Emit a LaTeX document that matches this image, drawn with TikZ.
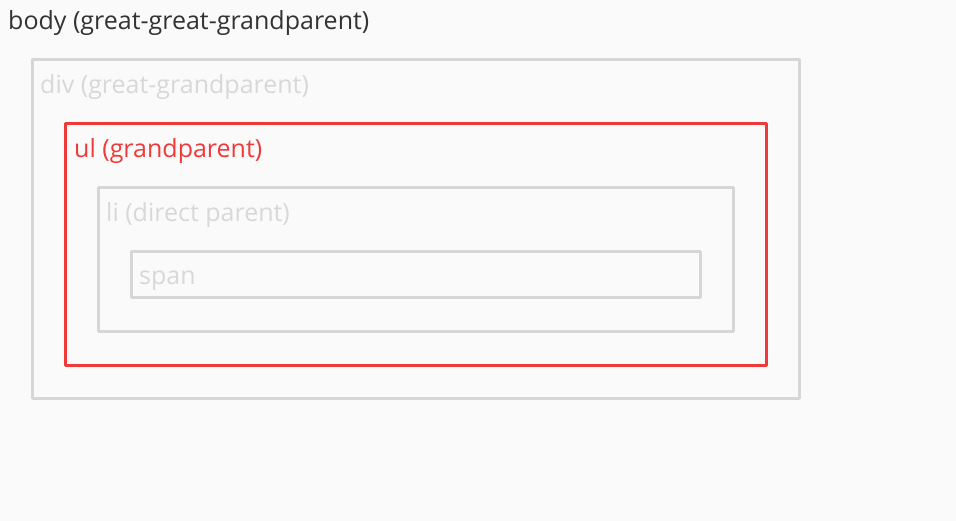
\documentclass[tikz,border=0pt]{standalone}
\usepackage{fontspec}
\setmainfont{Open Sans}
\definecolor{pagebg}{HTML}{FAFAFA}
\definecolor{boxgray}{HTML}{D6D6D6}
\definecolor{textgray}{HTML}{D8D8D8}
\definecolor{textdark}{HTML}{333333}
\definecolor{boxred}{HTML}{F03A3A}
\tikzset{
  level/.style={draw=boxgray,line width=3pt},
  focus/.style={draw=boxred,line width=3pt},
  tag/.style={anchor=base west,inner sep=0pt,text=textgray,font=\fontsize{25}{29}\selectfont},
}
\begin{document}
\begin{tikzpicture}[x=1pt,y=-1pt,line join=round]
  \fill[pagebg] (0,0) rectangle (956,521);
  \useasboundingbox (0,0) rectangle (956,521);
  % nested boxes
  \draw[level] (32,60) rectangle (799,398);
  \draw[focus] (65,124) rectangle (766,365);
  \draw[level] (98,188) rectangle (733,332);
  \draw[level] (131,252) rectangle (700,298);
  % labels
  \node[tag,text=textdark] (body) at (8,30) {body (great-great-grandparent)};
  \node[tag] (div) at (40,94) {div (great-grandparent)};
  \node[tag,text=boxred] (ul) at (74,158) {ul (grandparent)};
  \node[tag] (li) at (106,222) {li (direct parent)};
  \node[tag] (span) at (139,285) {span};
\end{tikzpicture}
\end{document}
